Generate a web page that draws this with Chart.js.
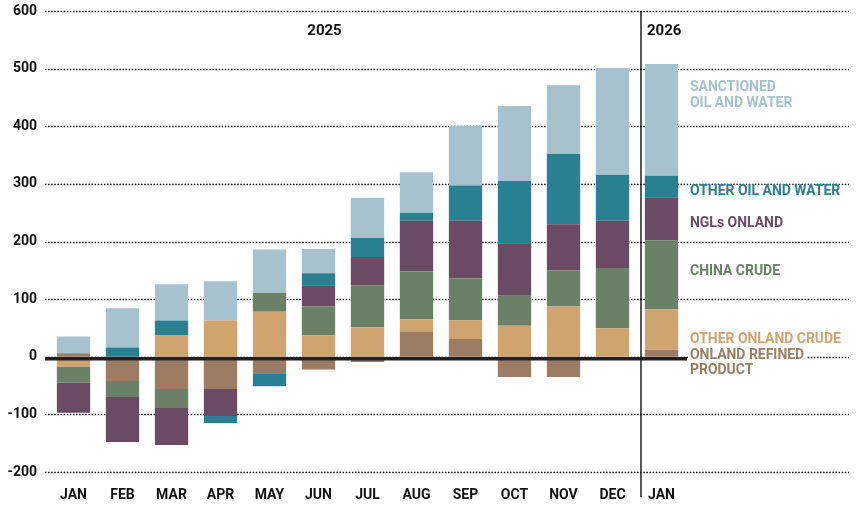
<!DOCTYPE html>
<html><head><meta charset="utf-8">
<script src="https://cdn.jsdelivr.net/npm/chart.js@4/dist/chart.umd.min.js"></script>
<style>html,body{margin:0;padding:0;background:#fff}#wrap{width:862px;height:510px;position:relative}</style>
</head><body><div id="wrap"><canvas id="c" width="862" height="510"></canvas></div>
<script>
const categories = ['JAN','FEB','MAR','APR','MAY','JUN','JUL','AUG','SEP','OCT','NOV','DEC','JAN'];
const onlandRefined = [6, -42, -56, -56, -30, -22, -9, 44, 31, -35, -35, 0, 12];
const otherOnlandCrude = [-17, 0, 37, 63, 78, 37, 51, 21, 32, 54, 87, 49, 70];
const chinaCrude = [-28, -28, -33, 0, 33, 50, 73, 83, 73, 52, 63, 105, 120];
const nglsOnland = [-52, -78, -64, -47, 0, 37, 49, 88, 100, 91, 80, 82, 75];
const otherOilWater = [0, 16, 26, -12, -21, 21, 33, 14, 61, 108, 122, 80, 37];
const sanctioned = [29, 68, 63, 68, 75, 42, 70, 70, 104, 130, 119, 185, 194];
const yTicks = [-200, -100, 0, 100, 200, 300, 400, 500, 600];
const years = ['2025', '2026'];

const colors = {
  refined: '#9c7d63', crude: '#cfa46e', china: '#6a8167',
  ngl: '#6b4a63', other: '#2a8093', sanct: '#a6c2ce'
};

const seriesLabels = [
  {lines: ['SANCTIONED', 'OIL AND WATER'], color: colors.sanct, v: 467, gap: 15.5},
  {lines: ['OTHER OIL AND WATER'], color: colors.other, v: 287},
  {lines: ['NGLs ONLAND'], color: colors.ngl, v: 232},
  {lines: ['CHINA CRUDE'], color: colors.china, v: 148},
  {lines: ['OTHER ONLAND CRUDE'], color: colors.crude, v: 31},
  {lines: ['ONLAND REFINED', 'PRODUCT'], color: colors.refined, v: 3, gap: 15.5}
];

Chart.defaults.font.family = 'Roboto';

const deco = {
  id: 'deco',
  beforeDatasetsDraw(chart) {
    const {ctx, scales: {y}} = chart;
    ctx.save();
    ctx.strokeStyle = '#111';
    ctx.lineWidth = 1.5;
    ctx.setLineDash([1.5, 1.6]);
    yTicks.forEach(v => {
      const py = Math.round(y.getPixelForValue(v)) + 0.5;
      ctx.beginPath(); ctx.moveTo(45, py); ctx.lineTo(849, py); ctx.stroke();
    });
    ctx.restore();
  },
  afterDatasetsDraw(chart) {
    const {ctx, chartArea, scales: {x, y}} = chart;
    ctx.save();
    const z = y.getPixelForValue(0) + 2;
    ctx.strokeStyle = '#231f20';
    ctx.lineWidth = 3.3;
    ctx.beginPath(); ctx.moveTo(45, z); ctx.lineTo(chartArea.right + 1, z); ctx.stroke();
    const sx = (x.getPixelForValue(11) + x.getPixelForValue(12)) / 2 + 4;
    ctx.strokeStyle = '#111';
    ctx.lineWidth = 1.4;
    ctx.beginPath(); ctx.moveTo(sx, y.getPixelForValue(600)); ctx.lineTo(sx, 497); ctx.stroke();
    ctx.fillStyle = '#111';
    ctx.font = 'bold 15px Roboto';
    ctx.textBaseline = 'middle';
    ctx.textAlign = 'center';
    ctx.fillText(years[0], x.getPixelForValue(5) + 6, 31);
    ctx.textAlign = 'left';
    ctx.fillText(years[1], sx + 6, 31);
    ctx.font = 'bold 15px Roboto';
    const k = 0.93;
    seriesLabels.forEach(s => {
      const py = y.getPixelForValue(s.v);
      s.lines.forEach((t, i) => {
        const yy = py + i * (s.gap || 0);
        const w = ctx.measureText(t).width * k;
        ctx.fillStyle = '#fff';
        ctx.fillRect(688, yy - 6.5, w + 4, 13);
        ctx.fillStyle = s.color;
        ctx.save();
        ctx.translate(690, yy);
        ctx.scale(k, 1);
        ctx.fillText(t, 0, 0);
        ctx.restore();
      });
    });
    ctx.restore();
  }
};

const mk = (label, data, color) => ({label, data, backgroundColor: color, borderWidth: 0, categoryPercentage: 1, barPercentage: 0.68});

new Chart(document.getElementById('c'), {
  type: 'bar',
  data: {
    labels: categories,
    datasets: [
      mk('Onland refined product', onlandRefined, colors.refined),
      mk('Other onland crude', otherOnlandCrude, colors.crude),
      mk('China crude', chinaCrude, colors.china),
      mk('NGLs onland', nglsOnland, colors.ngl),
      mk('Other oil and water', otherOilWater, colors.other),
      mk('Sanctioned oil and water', sanctioned, colors.sanct)
    ]
  },
  options: {
    responsive: false,
    animation: false,
    devicePixelRatio: 1,
    layout: {padding: {left: 0, right: 176, top: 11, bottom: 0}},
    plugins: {legend: {display: false}, tooltip: {enabled: false}},
    scales: {
      x: {
        stacked: true,
        grid: {display: false, drawTicks: false},
        border: {display: false},
        ticks: {color: '#111', font: {size: 14, weight: 'bold'}, padding: 15, maxRotation: 0, autoSkip: false},
        afterFit: s => { s.height = 38; s.paddingLeft = 0; s.paddingRight = 0; }
      },
      y: {
        stacked: true,
        min: -200, max: 600,
        grid: {display: false, drawTicks: false},
        border: {display: false},
        ticks: {stepSize: 100, color: '#111', font: {size: 14, weight: 'bold'}, padding: 12},
        afterFit: s => { s.width = 49; s.paddingTop = 0; s.paddingBottom = 0; }
      }
    }
  },
  plugins: [deco]
});
</script>
</body></html>
